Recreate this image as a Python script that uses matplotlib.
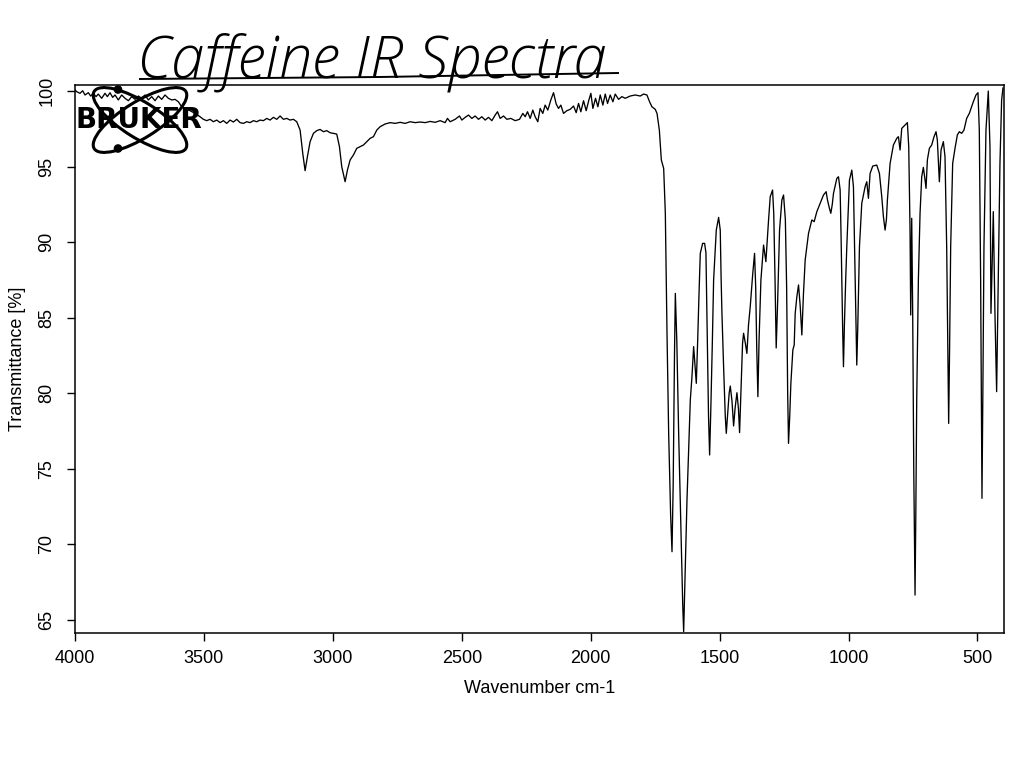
import matplotlib
matplotlib.use("Agg")
import matplotlib.pyplot as plt
import matplotlib.transforms as mtransforms
from matplotlib.patches import Ellipse, Circle
from matplotlib.lines import Line2D

# ---------------- data ----------------
wavenumber = [
    4000.0, 3993.5, 3980.6, 3970.3, 3961.2, 3948.3, 3939.2, 3928.9, 3918.5, 3909.5,
    3896.5, 3883.6, 3874.5, 3864.2, 3853.9, 3844.8, 3831.9, 3818.9, 3806.0, 3793.1,
    3780.1, 3767.2, 3754.3, 3741.3, 3728.4, 3715.5, 3702.5, 3689.6, 3676.7, 3663.8,
    3650.8, 3637.9, 3625.0, 3612.0, 3599.1, 3586.1, 3573.2, 3553.8, 3534.4, 3515.0,
    3502.1, 3489.1, 3476.2, 3463.3, 3450.3, 3437.4, 3424.5, 3411.5, 3398.6, 3385.7,
    3372.7, 3359.8, 3346.9, 3333.9, 3321.0, 3308.1, 3295.2, 3282.2, 3269.3, 3256.4,
    3243.4, 3230.5, 3217.6, 3204.6, 3191.7, 3178.8, 3165.8, 3152.9, 3140.0, 3127.0,
    3116.7, 3107.6, 3098.6, 3088.2, 3075.3, 3062.4, 3049.4, 3036.5, 3023.6, 3010.6,
    2997.7, 2984.8, 2974.4, 2965.4, 2952.4, 2943.4, 2933.0, 2920.1, 2907.2, 2894.2,
    2881.3, 2868.4, 2855.4,
    2842.5, 2829.5, 2816.6, 2797.2, 2777.8, 2758.4, 2739.0, 2719.6, 2700.2, 2680.8,
    2661.4, 2642.0, 2622.6, 2603.2, 2583.8, 2564.4, 2555.4, 2545.0, 2525.6, 2508.8,
    2499.7, 2486.8, 2473.8, 2460.9, 2448.0, 2435.1, 2422.1, 2409.2, 2396.3, 2383.3,
    2370.4, 2361.4, 2351.0, 2338.1, 2325.1, 2309.6, 2292.8, 2276.0, 2263.1, 2254.0,
    2245.0, 2234.6, 2224.5, 2215.4, 2205.1, 2196.0, 2185.7, 2176.6, 2166.3, 2154.5,
    2144.1, 2133.7, 2124.7, 2115.7, 2105.3, 2092.4, 2079.4, 2066.5, 2056.2, 2047.1,
    2038.1, 2027.7, 2017.4, 2007.0, 1999.2, 1991.5, 1981.2, 1972.1, 1963.0, 1952.7,
    1943.6, 1934.6, 1924.2, 1913.9, 1904.8, 1891.9, 1879.0, 1866.0, 1846.6, 1827.2,
    1807.8, 1794.8, 1781.9, 1771.6, 1762.5, 1749.6, 1742.7, 1733.7, 1726.0, 1716.9,
    1710.5, 1704.0, 1697.5, 1690.0, 1684.6, 1680.0, 1675.0, 1671.7, 1666.0, 1658.8,
    1650.0, 1643.0, 1639.4, 1634.0, 1626.5, 1613.6, 1607.2, 1600.7, 1596.0, 1590.4,
    1585.0, 1580.0, 1574.9, 1565.8, 1558.1, 1553.0, 1548.0, 1543.0, 1538.7, 1534.0,
    1528.0, 1523.2, 1512.9, 1503.8, 1497.5, 1494.0, 1490.9, 1484.5, 1478.0, 1474.1,
    1468.0, 1463.0, 1458.6, 1452.0, 1445.7, 1440.0, 1432.8, 1427.0, 1422.5, 1416.0,
    1411.0, 1407.0, 1400.0, 1394.1, 1388.0, 1381.2, 1372.0, 1364.4, 1360.0, 1356.0,
    1351.5, 1347.0, 1339.8, 1329.5, 1320.5, 1310.1, 1303.7, 1294.6, 1290.0, 1285.0,
    1280.5, 1275.0, 1267.5, 1258.5, 1252.0, 1245.0, 1240.0, 1236.0, 1232.7, 1228.0,
    1223.6, 1215.9, 1210.7, 1206.8, 1200.4, 1193.9, 1187.5, 1181.0, 1175.0, 1168.1,
    1155.2, 1142.3, 1133.2, 1122.9, 1110.0, 1097.1, 1086.8, 1081.6, 1075.0, 1068.7,
    1063.0, 1058.3, 1045.4, 1039.0, 1032.5, 1029.0, 1026.1, 1022.5, 1019.6, 1016.0,
    1011.0, 1006.7, 996.4, 987.3, 980.9, 977.5, 974.4, 971.0, 968.0, 964.0,
    961.0, 957.6, 948.6, 935.7, 929.2, 922.8, 916.3, 906.0, 890.5, 880.1,
    871.1, 864.7, 858.2, 853.0, 849.2, 838.8, 825.9, 813.0, 806.5, 800.1,
    793.6, 780.7, 771.7, 766.5, 761.4, 758.8, 754.9, 751.0, 747.0, 742.0,
    739.0, 735.5, 729.1, 722.6, 716.1, 709.7, 703.2, 699.4, 694.2, 686.4,
    677.4, 668.4, 660.6, 655.5, 647.7, 641.2, 632.2, 625.8, 619.3, 615.0,
    611.6, 608.0, 603.8, 596.1, 587.0, 578.0, 570.2, 561.2, 552.2, 541.8,
    531.5, 522.5, 516.0, 505.7, 497.9, 492.8, 487.6, 485.0, 482.4, 479.0,
    474.7, 466.9, 457.9, 451.4, 447.6, 443.0, 438.5, 432.1, 425.6, 419.2,
    412.7, 406.2, 401.0,
]
transmittance = [
    100.07, 99.96, 99.85, 100.02, 99.74, 99.89, 99.67, 99.85, 99.63, 99.80,
    99.52, 99.85, 99.63, 99.89, 99.58, 99.74, 99.41, 99.74, 99.52, 99.36,
    99.63, 99.45, 99.67, 99.52, 99.74, 99.41, 99.63, 99.36, 99.67, 99.45,
    99.74, 99.52, 99.41, 99.45, 99.29, 98.96, 98.85, 98.70, 98.52, 98.30,
    98.13, 98.04, 98.13, 97.97, 98.08, 97.91, 98.04, 97.86, 98.08, 97.95,
    98.13, 97.91, 97.86, 97.97, 97.91, 98.04, 97.97, 98.08, 98.04, 98.19,
    98.08, 98.26, 98.13, 98.35, 98.13, 98.19, 98.08, 98.13, 97.97, 97.42,
    95.88, 94.73, 95.66, 96.65, 97.20, 97.38, 97.46, 97.31, 97.38, 97.24,
    97.20, 97.15, 96.32, 94.99, 94.00, 94.77, 95.44, 95.77, 96.21, 96.32,
    96.43, 96.65, 96.87,
    96.98, 97.42, 97.64, 97.82, 97.91, 97.86, 97.93, 97.86, 97.97, 97.91,
    97.95, 97.91, 97.99, 97.93, 98.04, 97.91, 98.19, 97.97, 98.13, 98.35,
    98.08, 98.26, 98.41, 98.19, 98.35, 98.13, 98.30, 98.08, 98.26, 98.04,
    98.41, 98.63, 98.19, 98.35, 98.13, 98.19, 98.04, 98.13, 98.52, 98.30,
    98.63, 98.19, 98.74, 98.30, 97.97, 98.85, 98.52, 99.07, 98.74, 99.41,
    99.89, 99.14, 98.85, 99.07, 98.52, 98.70, 98.79, 99.01, 98.57, 99.18,
    98.63, 99.36, 98.70, 99.41, 99.85, 98.85, 99.52, 98.96, 99.74, 99.07,
    99.80, 99.18, 99.74, 99.29, 99.80, 99.45, 99.63, 99.52, 99.67, 99.74,
    99.67, 99.80, 99.74, 99.29, 98.96, 98.79, 98.52, 97.42, 95.44, 94.88,
    91.91, 84.00, 77.30, 72.00, 69.52, 74.00, 82.50, 86.61, 83.50, 77.35,
    71.00, 66.00, 64.23, 68.00, 72.94, 79.56, 81.10, 83.09, 82.00, 80.66,
    83.50, 86.50, 89.26, 89.92, 89.92, 89.30, 84.00, 78.50, 75.92, 79.00,
    83.50, 87.50, 90.80, 91.64, 90.80, 87.50, 85.29, 81.76, 78.50, 77.35,
    78.80, 80.00, 80.48, 79.50, 77.84, 79.00, 80.04, 79.00, 77.40, 80.66,
    83.30, 83.97, 83.30, 82.64, 84.50, 85.73, 87.80, 89.26, 87.00, 83.00,
    79.78, 83.50, 87.50, 89.81, 88.71, 91.47, 93.01, 93.45, 91.90, 87.50,
    83.00, 86.00, 90.80, 92.79, 93.12, 91.50, 87.00, 80.00, 76.69, 78.50,
    80.66, 82.87, 83.20, 85.29, 86.39, 87.17, 85.80, 83.86, 86.50, 88.82,
    90.58, 91.47, 91.36, 92.02, 92.57, 93.12, 93.34, 92.79, 92.30, 91.91,
    92.50, 93.23, 94.22, 94.33, 93.45, 90.50, 87.50, 84.00, 81.76, 84.50,
    87.50, 89.70, 94.11, 94.77, 93.67, 90.50, 87.50, 84.50, 81.87, 84.50,
    87.00, 89.70, 92.57, 93.67, 94.00, 92.90, 94.55, 95.04, 95.10, 94.55,
    93.01, 91.69, 90.80, 91.50, 92.79, 95.21, 96.43, 96.87, 96.98, 96.10,
    97.53, 97.75, 97.91, 96.32, 90.80, 85.18, 91.58, 85.00, 75.00, 66.65,
    72.00, 79.56, 87.50, 91.91, 94.33, 94.95, 94.11, 93.56, 95.44, 96.21,
    96.43, 96.98, 97.31, 96.76, 94.00, 96.10, 96.65, 95.66, 89.70, 83.00,
    78.01, 83.00, 89.70, 95.21, 96.21, 97.09, 97.31, 97.20, 97.42, 98.19,
    98.52, 98.96, 99.29, 99.74, 99.89, 97.42, 87.50, 80.00, 73.05, 80.00,
    89.70, 97.42, 100.00, 96.32, 85.29, 88.50, 92.02, 85.29, 80.11, 87.50,
    95.21, 99.40, 100.20,
]
x_ticks = [4000, 3500, 3000, 2500, 2000, 1500, 1000, 500]
y_ticks = [65, 70, 75, 80, 85, 90, 95, 100]
title_text = "Caffeine IR Spectra"
x_label = "Wavenumber cm-1"
y_label = "Transmittance [%]"
logo_text = "BRUKER"

# ---------------- figure ----------------
W, H = 1024, 760
plt.rcParams['font.family'] = ['Liberation Sans', 'DejaVu Sans']
fig = plt.figure(figsize=(W / 100, H / 100), dpi=100)
fig.patch.set_facecolor('white')

ax = fig.add_axes([75 / W, 1 - 633 / H, 929 / W, 548 / H])
ax.plot(wavenumber, transmittance, color='black', lw=0.95, zorder=2)
ax.set_xlim(4000, 397)
ax.set_ylim(64.14, 100.4)
ax.set_xticks(x_ticks)
ax.set_yticks(y_ticks)
ax.set_xticklabels([str(t) for t in x_ticks])
ax.set_yticklabels([str(t) for t in y_ticks], rotation=90, va='center')
for s in ax.spines.values():
    s.set_linewidth(1.1)
ax.tick_params(axis='both', direction='out', length=6, width=1.0,
               labelsize=13, top=False, right=False)
ax.tick_params(axis='x', pad=6)
ax.tick_params(axis='y', pad=8)
ax.set_xlabel(x_label, fontsize=13)
ax.set_ylabel(y_label, fontsize=13)
ax.xaxis.set_label_coords(0.5, -0.085)
ax.yaxis.set_label_coords(-0.053, 0.5)

# pixel-coordinate transform for decorations (y measured downward)
pix = mtransforms.Affine2D().scale(1 / W, -1 / H).translate(0, 1) + fig.transFigure

# Bruker logo
for ang in (32, -32):
    fig.add_artist(Ellipse((140, 120), width=108, height=36, angle=ang,
                           transform=pix, fill=False, edgecolor='black',
                           lw=2.2, zorder=5))
for cy in (89.5, 148.5):
    fig.add_artist(Circle((118, cy), 3.6, transform=pix, color='black', zorder=6))
fig.text(139 / W, 1 - 119.5 / H, logo_text, fontsize=20, fontweight='bold',
         family='DejaVu Sans', ha='center', va='center', color='black', zorder=7)

# hand-written style title with underline
fig.text(137 / W, 1 - 77 / H, title_text, fontsize=43, family=['Open Sans', 'DejaVu Sans'],
         style='italic', fontweight='light', ha='left', va='baseline', color='black')
fig.add_artist(Line2D([140, 380, 618], [79, 77, 73], transform=pix,
                      color='black', lw=1.4))

fig.savefig("out.png", dpi=100, facecolor='white')
